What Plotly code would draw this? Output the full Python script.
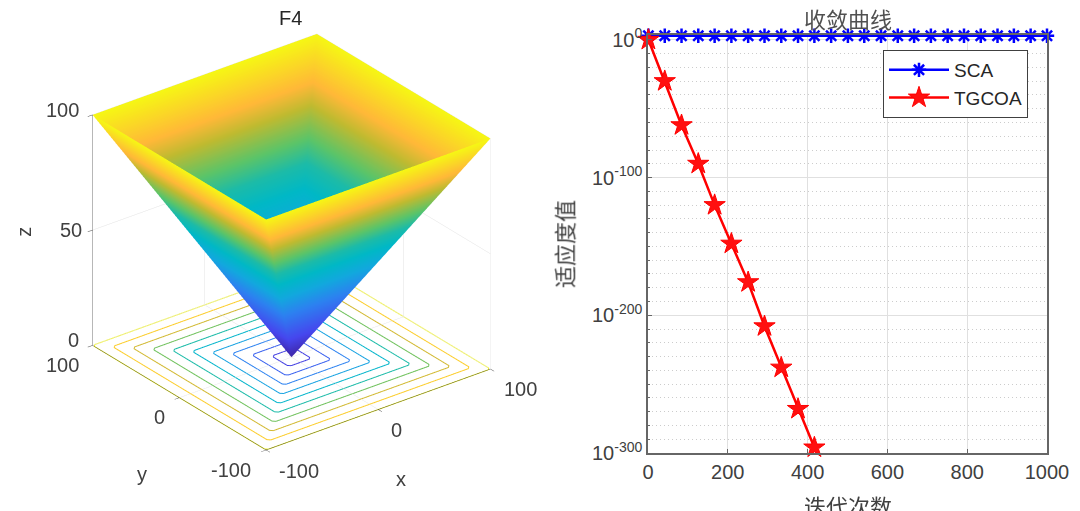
import plotly.graph_objects as go

# left panel: the pyramid surface, four rim corners and the bottom point
vertex_x = [-100, 100, 100, -100, 0]
vertex_y = [-100, -100, 100, 100, 0]
vertex_z = [100, 100, 100, 100, 0]
face_i = [0, 1, 2, 3]
face_j = [1, 2, 3, 0]
face_k = [4, 4, 4, 4]
contour_levels = [10, 20, 30, 40, 50, 60, 70, 80, 90, 100]
x_ticks = [-100, 0, 100]
y_ticks = [-100, 0, 100]
z_ticks = [0, 50, 100]

# right panel: convergence curves
iterations = [1, 42, 84, 126, 167, 209, 251, 292, 334, 376, 417, 459, 501, 542, 584, 626,
              667, 709, 751, 792, 834, 876, 917, 959, 1000]
sca_fitness = [1e3] * 25
tgcoa_iterations = [1, 42, 84, 126, 167, 209, 251, 292, 334, 376, 417]
tgcoa_fitness = [1e0, 1e-30, 1e-62, 1e-90, 1e-120, 1e-148, 1e-176, 1e-208, 1e-238, 1e-268, 1e-296]
y_tick_vals = [1e0, 1e-100, 1e-200, 1e-300]
y_tick_text = ["10<sup>0</sup>", "10<sup>-100</sup>", "10<sup>-200</sup>", "10<sup>-300</sup>"]

parula = [
    [0.0, "#3E26A8"], [0.12, "#4646EE"], [0.3, "#2C82F0"], [0.42, "#12A8DE"], [0.52, "#00B8C6"],
    [0.6, "#1CBBA8"], [0.68, "#5CC468"], [0.78, "#C0BA30"], [0.85, "#FFB838"], [1.0, "#F6F714"],
]

TEXT = "#404040"
FONT = "Liberation Sans"
CJK = "Noto Sans CJK SC"

fig = go.Figure()
fig.add_trace(go.Mesh3d(
    x=vertex_x, y=vertex_y, z=vertex_z, i=face_i, j=face_j, k=face_k,
    intensity=vertex_z, colorscale=parula, cmin=0, cmax=100, showscale=False,
    lighting=dict(ambient=1, diffuse=0, specular=0, roughness=1, fresnel=0),
    hoverinfo="skip",
))

# contour rings on the floor, corners slightly cut like the reference
for level in contour_levels:
    cut = min(2, level / 5)
    ring_x = [-level + cut, level - cut, level, level, level - cut, -level + cut, -level, -level, -level + cut]
    ring_y = [-level, -level, -level + cut, level - cut, level, level, level - cut, -level + cut, -level]
    fig.add_trace(go.Scatter3d(
        x=ring_x, y=ring_y, z=[0] * len(ring_x), mode="lines",
        line=dict(color=[level] * len(ring_x), cmin=0, cmax=100, colorscale=parula, width=2),
        showlegend=False, hoverinfo="skip",
    ))

fig.add_trace(go.Scatter(
    x=iterations, y=sca_fitness, mode="lines+markers", name="SCA", cliponaxis=False,
    line=dict(color="#0000FF", width=2.5),
    marker=dict(symbol="asterisk-open", size=12, line=dict(color="#0000FF", width=2.5)),
    xaxis="x", yaxis="y",
))
fig.add_trace(go.Scatter(
    x=tgcoa_iterations, y=tgcoa_fitness, mode="lines+markers", name="TGCOA", cliponaxis=False,
    line=dict(color="#FF0000", width=2.5),
    marker=dict(symbol="star", size=16, color="#FF1010", line=dict(color="#FF0000", width=1)),
    xaxis="x", yaxis="y",
))

axis3d = dict(
    showbackground=False, showgrid=True, gridcolor="#E2E2E2", gridwidth=1, zeroline=False,
    showline=True, linecolor="#404040", linewidth=1, ticks="outside", ticklen=6, tickcolor="#404040",
    showticklabels=False, showspikes=False, title=dict(text=""),
)


def label3d(x, y, z, text, dx, dy):
    return dict(x=x, y=y, z=z, text=text, showarrow=False, xshift=dx, yshift=dy,
                xanchor="center", yanchor="middle", font=dict(family=FONT, size=20, color=TEXT))


tick_labels = []
x_shift = {-100: (33, -21), 0: (18, -20), 100: (30, -20)}
y_shift = {-100: (-35, -20), 0: (-20, -19), 100: (-30, -20)}
z_shift = {0: (-19, 5), 50: (-22, 0), 100: (-30, 5)}
for v in x_ticks:
    tick_labels.append(label3d(v, -100, 0, str(v), *x_shift[v]))
for v in y_ticks:
    tick_labels.append(label3d(-100, v, 0, str(v), *y_shift[v]))
for v in z_ticks:
    tick_labels.append(label3d(-100, 100, v, str(v), *z_shift[v]))
tick_labels.append(label3d(0, -100, 0, "x", 23, -69))
tick_labels.append(label3d(-100, 0, 0, "y", -37, -76))
tick_labels.append(dict(label3d(-100, 100, 50, "z", -68, -2), textangle=-90))

fig.update_layout(
    width=1080, height=511, autosize=False, margin=dict(l=0, r=0, t=0, b=0, autoexpand=False),
    paper_bgcolor="white", plot_bgcolor="white",
    font=dict(family=FONT, size=20, color=TEXT),
    scene=dict(
        domain=dict(x=[0, 0.54], y=[0, 1]),
        xaxis=dict(axis3d, range=[-100, 100], tickvals=x_ticks),
        yaxis=dict(axis3d, range=[-100, 100], tickvals=y_ticks),
        zaxis=dict(axis3d, range=[0, 100], tickvals=z_ticks),
        aspectmode="manual", aspectratio=dict(x=1.11, y=1.11, z=1.02),
        camera=dict(
            eye=dict(x=-0.8775, y=-1.134, z=0.696), center=dict(x=0, y=0, z=-0.06), up=dict(x=0, y=0, z=1),
            projection=dict(type="orthographic"),
        ),
        annotations=tick_labels,
    ),
    xaxis=dict(
        domain=[648 / 1080, 1047 / 1080], range=[0, 1000], tick0=0, dtick=200,
        showgrid=True, gridcolor="#E0E0E0", gridwidth=1, zeroline=False,
        showline=True, mirror=True, linecolor="#666666", linewidth=1.5,
        ticks="inside", ticklen=4, tickcolor="#666666",
        tickfont=dict(family=FONT, size=20, color=TEXT),
    ),
    yaxis=dict(
        domain=[1 - 453 / 511, 1 - 35 / 511], type="log", range=[-300, 3.5],
        tickmode="array", tickvals=y_tick_vals, ticktext=y_tick_text,
        showgrid=True, gridcolor="#E0E0E0", gridwidth=1, zeroline=False,
        showline=True, mirror=True, linecolor="#666666", linewidth=1.5,
        ticks="inside", ticklen=4, tickcolor="#666666",
        tickfont=dict(family=FONT, size=20, color=TEXT),
        title=dict(text="适应度值", font=dict(family=CJK, size=22, color=TEXT), standoff=12),
        minor=dict(tickmode="linear", tick0=0, dtick=10, showgrid=True, gridcolor="#CCCCCC",
                   griddash="1px,3px", gridwidth=1, ticks="inside", ticklen=2, tickcolor="#666666"),
    ),
    legend=dict(
        x=883 / 1080, y=1 - 50 / 511, xanchor="left", yanchor="top", xref="paper", yref="paper",
        bgcolor="white", bordercolor="#404040", borderwidth=1,
        font=dict(family=FONT, size=19, color="#262626"), itemwidth=60, tracegroupgap=0,
    ),
    annotations=[
        dict(text="F4", x=290 / 1080, y=1 - 18 / 511, xref="paper", yref="paper", showarrow=False,
             xanchor="center", yanchor="middle", font=dict(family=FONT, size=20, color="#262626")),
        dict(text="收敛曲线", x=848 / 1080, y=1 - 18 / 511, xref="paper", yref="paper", showarrow=False,
             xanchor="center", yanchor="middle", font=dict(family=CJK, size=22, color="#505050")),
        # x title sits half off the page in the reference, the axis title will not go that low
        dict(text="迭代次数", x=848 / 1080, y=1 - 505 / 511, xref="paper", yref="paper", showarrow=False,
             xanchor="center", yanchor="middle", font=dict(family=CJK, size=22, color=TEXT)),
    ],
)

fig.write_html("out.html", config=dict(displayModeBar=False),
               post_script="document.body.style.margin = '0';")
